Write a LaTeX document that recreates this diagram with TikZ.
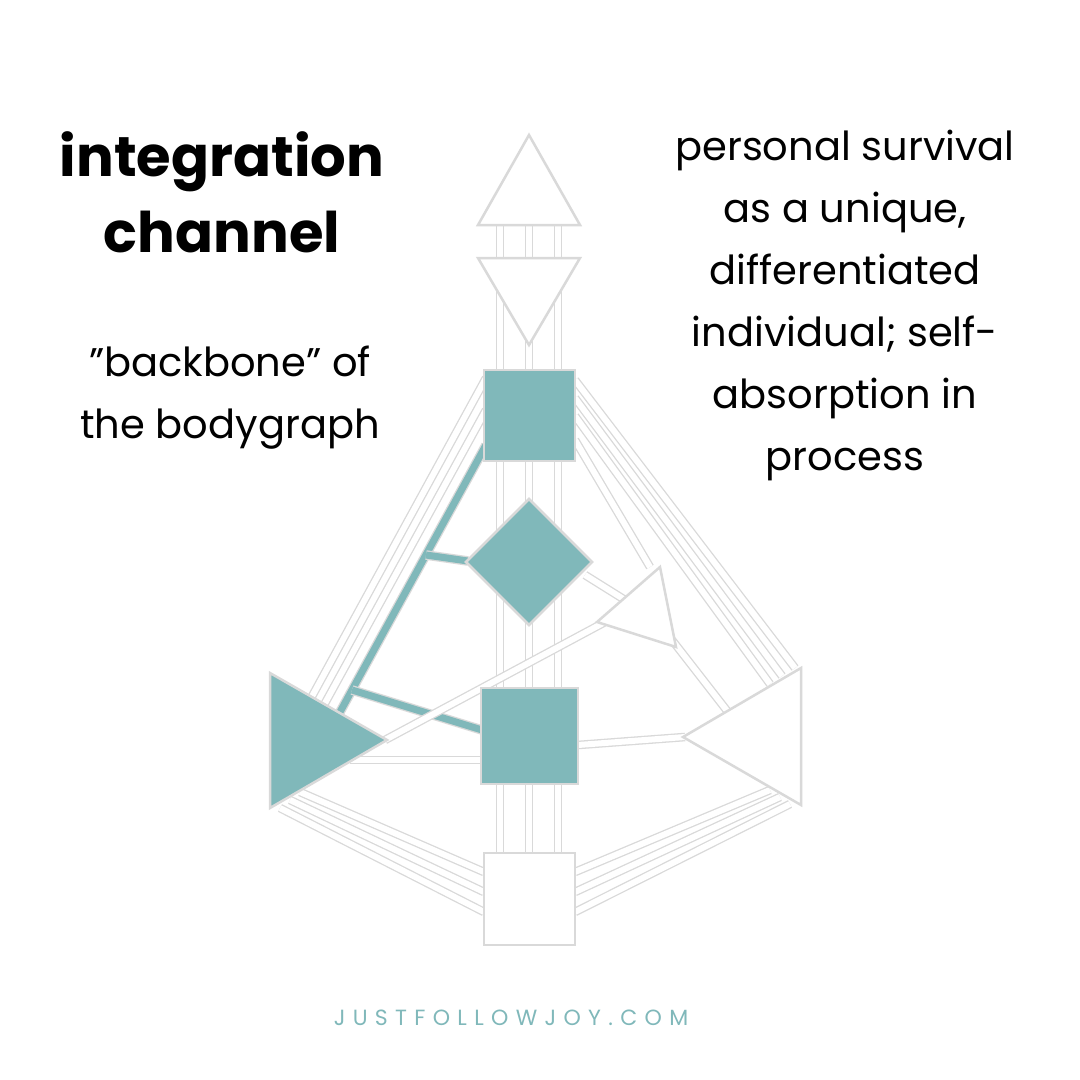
\documentclass[tikz,border=0pt]{standalone}
\usepackage{fontspec}
\setmainfont{Poppins}
\definecolor{tl}{HTML}{80B8BA}
\definecolor{gr}{HTML}{D9D9D9}
\begin{document}
\begin{tikzpicture}[x=1pt,y=-1pt,
  ch/.style={draw=gr,line width=1.3pt,double=white,double distance=6pt},
  cht/.style={draw=gr,line width=1.3pt,double=tl,double distance=7pt},
  ctr/.style={draw=gr,line width=2.5pt,line join=miter,fill=white},
  ctrt/.style={draw=gr,line width=2.5pt,line join=miter,fill=tl},
  txt/.style={align=center,font=\fontsize{40}{62}\selectfont,inner sep=0pt}]
\useasboundingbox[fill=white] (0,0) rectangle (1080,1080);
% vertical channels
\foreach \x in {500,529,558}{\draw[ch] (\x,225) -- (\x,853);}
% left side
\draw[ch] (486,378) -- (310,700);
\draw[ch] (486,410) -- (324,705);
\draw[cht] (486,445) -- (340,712);
\draw[cht] (468,561) -- (426,555);
\draw[cht] (352,690) -- (482,730);
\draw[ch] (350,760) -- (482,760);
% right side
\draw[ch] (575,380) -- (795,668);
\draw[ch] (575,398) -- (782,676);
\draw[ch] (575,416) -- (770,684);
\draw[ch] (575,440) -- (650,567);
\draw[ch] (585,575) -- (625,600);
\draw[ch] (672,640) -- (728,712);
\draw[ch] (605,622) -- (385,740);
\draw[ch] (578,745) -- (685,737);
% root channels
\draw[ch] (484,872) -- (300,792);
\draw[ch] (484,892) -- (290,800);
\draw[ch] (484,912) -- (280,808);
\draw[ch] (575,872) -- (770,790);
\draw[ch] (575,892) -- (780,797);
\draw[ch] (575,912) -- (790,804);
% centres
\draw[ctr] (529,135) -- (580,225) -- (478,225) -- cycle;
\draw[ctr] (478,258) -- (580,258) -- (529,345) -- cycle;
\draw[ctrt] (484,370) rectangle (575,461);
\draw[ctrt] (529,499) -- (592,562) -- (529,625) -- (466,562) -- cycle;
\draw[ctr] (660,567) -- (676,647) -- (597,622) -- cycle;
\draw[ctrt] (481,688) rectangle (578,784);
\draw[ctrt] (270,673) -- (387,740) -- (270,808) -- cycle;
\draw[ctr] (801,668) -- (801,805) -- (683,737) -- cycle;
\draw[ctr] (484,853) rectangle (575,945);
% texts
\node[txt,font=\fontsize{56}{76}\selectfont\bfseries] (title) at (222,192) {integration\\channel};
\node[txt] (sub) at (230,398) {"backbone" of\\the bodygraph};
\node[txt] (desc) at (845,305) {personal survival\\as a unique,\\differentiated\\individual; self-\\absorption in\\process};
\node[text=tl,font=\fontsize{22}{26}\selectfont] (web) at (511,1018) {J\,\,U\,\,S\,\,T\,\,F\,\,O\,\,L\,\,L\,\,O\,\,W\,\,J\,\,O\,\,Y\,\,.\,\,C\,\,O\,\,M};
\end{tikzpicture}
\end{document}
